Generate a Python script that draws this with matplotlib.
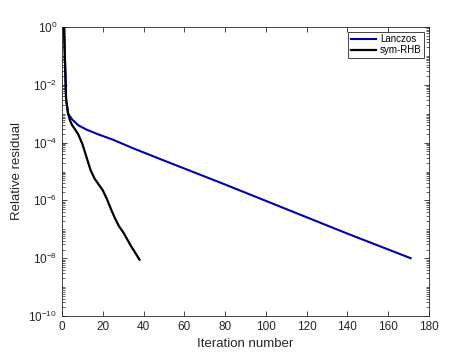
import numpy as np
import matplotlib
matplotlib.use("Agg")
import matplotlib.pyplot as plt
from matplotlib.ticker import NullFormatter, FixedLocator

plt.rcParams['font.family'] = ['Liberation Sans', 'DejaVu Sans']

# Lanczos residual history (iteration, log10 residual)
lanczos_iter = [1, 2, 3, 5, 8, 12, 18, 25, 35, 50, 80, 110, 140, 171]
lanczos_log = [0.0, -2.5, -3.0, -3.2, -3.4, -3.55, -3.72, -3.9, -4.2,
               -4.62, -5.45, -6.3, -7.15, -8.0]

# sym-RHB residual history
rhb_iter = [1, 2, 3, 4, 5, 6, 8, 10, 12, 14, 16, 18, 20, 22, 24, 26, 28,
            30, 32, 34, 36, 38]
rhb_log = [0.0, -2.5, -3.0, -3.25, -3.4, -3.5, -3.72, -4.05, -4.5, -4.95,
           -5.25, -5.45, -5.65, -5.95, -6.3, -6.62, -6.9, -7.1, -7.35, -7.6,
           -7.82, -8.05]

fig = plt.figure(figsize=(4.74, 3.55), dpi=100)
ax = fig.add_axes([62 / 474, 1 - 316 / 355, 367 / 474, 289 / 355])

ax.semilogy(lanczos_iter, 10.0 ** np.array(lanczos_log), color='#0000A8',
            lw=1.5, label='Lanczos')
ax.semilogy(rhb_iter, 10.0 ** np.array(rhb_log), color='black',
            lw=1.6, label='sym-RHB')

ax.set_xlim(0, 180)
ax.set_ylim(1e-10, 1)
ax.set_xticks(np.arange(0, 181, 20))
ax.yaxis.set_major_locator(FixedLocator([1e-10, 1e-8, 1e-6, 1e-4, 1e-2, 1]))
minor = [k * 10.0 ** e for e in range(-10, 0) for k in range(1, 10)
         if not (k == 1 and e % 2 == 0)]
ax.yaxis.set_minor_locator(FixedLocator(minor))
ax.yaxis.set_minor_formatter(NullFormatter())

ax.tick_params(which='both', direction='in', top=True, right=True,
               colors='#262626', labelsize=8.5)
ax.tick_params(axis='x', which='minor', top=False, bottom=False)
ax.tick_params(which='major', length=3.5, width=0.6)
ax.tick_params(which='minor', length=2, width=0.5)
for s in ax.spines.values():
    s.set_color('#262626')
    s.set_linewidth(0.6)

ax.set_xlabel('Iteration number', fontsize=9.5, color='#262626')
ax.set_ylabel('Relative residual', fontsize=9.5, color='#262626')

leg = ax.legend(loc='upper right', fontsize=7, fancybox=False,
                edgecolor='#262626', framealpha=1, handlelength=2.6,
                borderaxespad=0.5, borderpad=0.25, labelspacing=0.1,
                handletextpad=0.4)
leg.get_frame().set_linewidth(0.6)

fig.savefig('out.png', dpi=100)
